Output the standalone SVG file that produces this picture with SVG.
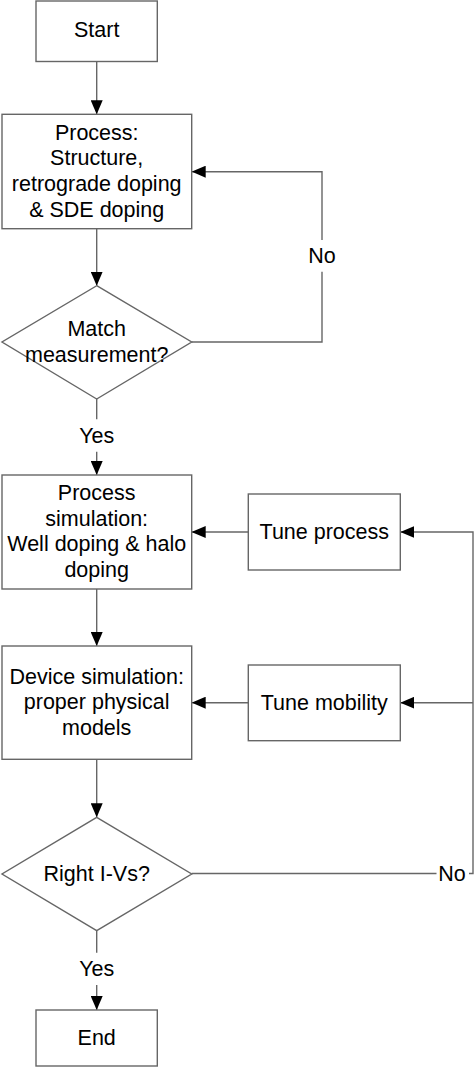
<svg xmlns="http://www.w3.org/2000/svg" width="474" height="1068" viewBox="0 0 474 1068">
<defs>
<marker id="arr" markerWidth="14" markerHeight="12" refX="14" refY="6" orient="auto" markerUnits="userSpaceOnUse">
<path d="M0,0 L14,6 L0,12 Z" fill="#000"/>
</marker>
<style>
.box{fill:#fff;stroke:#666;stroke-width:1.4}
.ln{fill:none;stroke:#666;stroke-width:1.4}
.t{font-family:"Liberation Sans",Arial,sans-serif;font-size:21.5px;fill:#000;text-anchor:middle;dominant-baseline:central}
</style>
</defs>
<rect width="474" height="1068" fill="#fff"/>
<g id="connectors">
<line class="ln" x1="96.7" y1="61.5" x2="96.7" y2="114.3" marker-end="url(#arr)"/>
<line class="ln" x1="96.7" y1="228.7" x2="96.7" y2="285.7" marker-end="url(#arr)"/>
<polyline class="ln" points="191.7,342 322,342 322,271.7"/>
<polyline class="ln" points="322,240 322,171.7 191.7,171.7" marker-end="url(#arr)"/>
<line class="ln" x1="96.7" y1="399" x2="96.7" y2="419.3"/>
<line class="ln" x1="96.7" y1="451.7" x2="96.7" y2="475" marker-end="url(#arr)"/>
<line class="ln" x1="96.7" y1="589" x2="96.7" y2="646" marker-end="url(#arr)"/>
<line class="ln" x1="96.7" y1="759.3" x2="96.7" y2="817.3" marker-end="url(#arr)"/>
<line class="ln" x1="96.7" y1="930.7" x2="96.7" y2="952.7"/>
<line class="ln" x1="96.7" y1="985" x2="96.7" y2="1010" marker-end="url(#arr)"/>
<line class="ln" x1="248.3" y1="532" x2="191.7" y2="532" marker-end="url(#arr)"/>
<line class="ln" x1="248.3" y1="702.7" x2="191.7" y2="702.7" marker-end="url(#arr)"/>
<line class="ln" x1="191.7" y1="873.5" x2="436.5" y2="873.5"/>
<polyline class="ln" points="469,873.5 473,873.5 473,532 400.3,532" marker-end="url(#arr)"/>
<line class="ln" x1="473" y1="702.7" x2="400.3" y2="702.7" marker-end="url(#arr)"/>
<text class="t" x="322" y="256">No</text>
<text class="t" x="96.7" y="435.7">Yes</text>
<text class="t" x="96.7" y="969.3">Yes</text>
<text class="t" x="452" y="873.5">No</text>
</g>
<g id="start">
<rect class="box" x="36" y="1" width="121.3" height="60.5"/>
<text class="t" x="96.7" y="30">Start</text>
</g>
<g id="process">
<rect class="box" x="2" y="114.3" width="189.7" height="114.4"/>
<text class="t" x="96.7" y="132.5">Process:</text>
<text class="t" x="96.7" y="158.2">Structure,</text>
<text class="t" x="96.7" y="183.9">retrograde doping</text>
<text class="t" x="96.7" y="209.6">&amp; SDE doping</text>
</g>
<g id="match">
<polygon class="box" points="96.7,285.7 191.7,342 96.7,399 2,342"/>
<text class="t" x="96.7" y="329">Match</text>
<text class="t" x="96.7" y="355">measurement?</text>
</g>
<g id="procsim">
<rect class="box" x="2" y="475" width="189.7" height="114"/>
<text class="t" x="96.7" y="493">Process</text>
<text class="t" x="96.7" y="518.6">simulation:</text>
<text class="t" x="96.7" y="544.2">Well doping &amp; halo</text>
<text class="t" x="96.7" y="569.8">doping</text>
</g>
<g id="tuneprocess">
<rect class="box" x="248.3" y="494" width="152" height="76"/>
<text class="t" x="324.3" y="532">Tune process</text>
</g>
<g id="devsim">
<rect class="box" x="2" y="646" width="189.7" height="113.3"/>
<text class="t" x="96.7" y="676.5">Device simulation:</text>
<text class="t" x="96.7" y="702.3">proper physical</text>
<text class="t" x="96.7" y="727.9">models</text>
</g>
<g id="tunemobility">
<rect class="box" x="248.3" y="665" width="152" height="75.7"/>
<text class="t" x="324.3" y="702.7">Tune mobility</text>
</g>
<g id="ivs">
<polygon class="box" points="96.7,817.3 191.7,874 96.7,930.7 2,874"/>
<text class="t" x="96.7" y="873.5">Right I-Vs?</text>
</g>
<g id="end">
<rect class="box" x="36" y="1010" width="121.3" height="56"/>
<text class="t" x="96.7" y="1037.5">End</text>
</g>
</svg>
